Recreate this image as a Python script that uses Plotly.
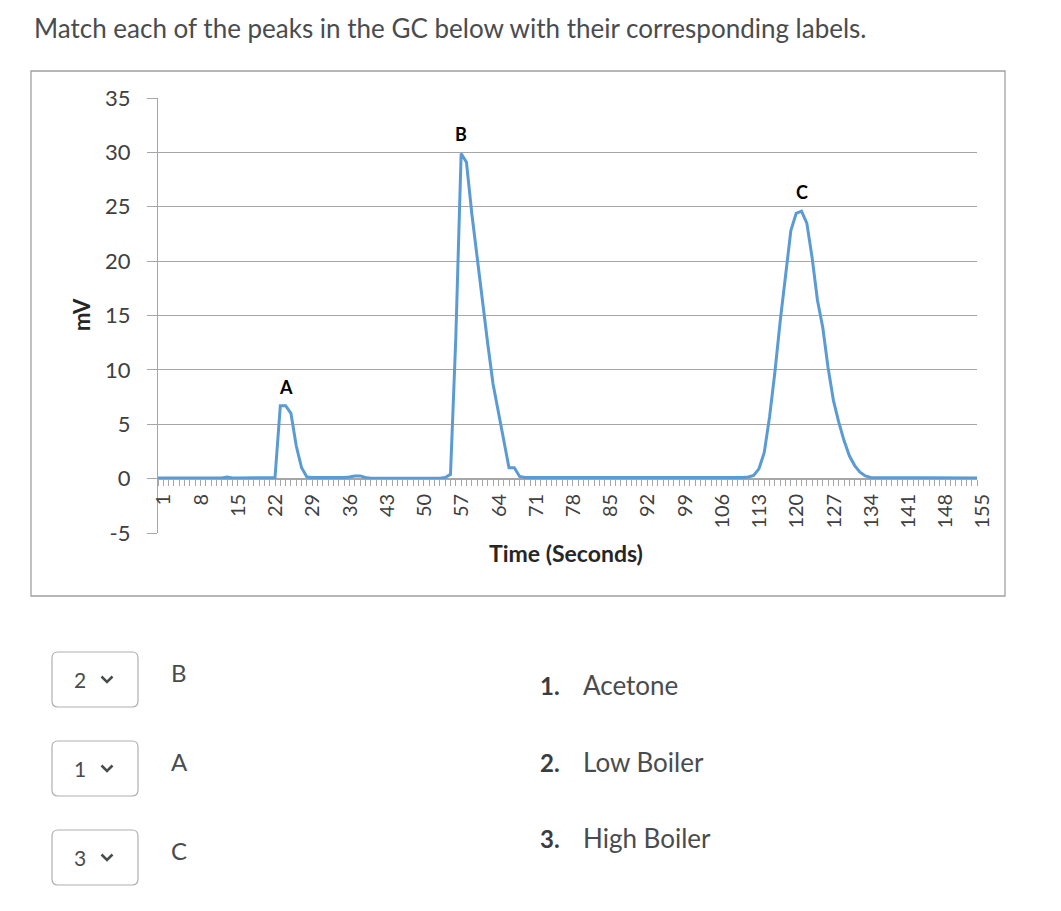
import plotly.graph_objects as go

# ---------------- data ----------------
time_s = list(range(1, 156))
mv = [
    0.05, 0.05, 0.05, 0.05, 0.05, 0.05, 0.05, 0.05, 0.05, 0.05,   # 1-10
    0.05, 0.05, 0.05, 0.15, 0.05, 0.05, 0.05, 0.05, 0.05, 0.05,   # 11-20
    0.05, 0.05, 0.1, 6.7, 6.7, 6.0, 3.0, 1.0, 0.15, 0.1,          # 21-30
    0.1, 0.1, 0.1, 0.05, 0.05, 0.1, 0.15, 0.25, 0.25, 0.1,        # 31-40
    0.03, 0.03, 0.03, 0.03, 0.03, 0.03, 0.03, 0.03, 0.03, 0.03,   # 41-50
    0.03, 0.03, 0.03, 0.03, 0.1, 0.4, 13.0, 29.9, 29.1, 24.4,     # 51-60
    20.4, 16.2, 12.4, 8.7, 6.2, 3.4, 1.0, 1.0, 0.2, 0.1,          # 61-70
    0.1, 0.1, 0.1, 0.1, 0.1, 0.1, 0.05, 0.05, 0.05, 0.05,         # 71-80
    0.05, 0.05, 0.05, 0.05, 0.05, 0.05, 0.05, 0.05, 0.05, 0.05,   # 81-90
    0.05, 0.05, 0.05, 0.05, 0.05, 0.05, 0.05, 0.05, 0.05, 0.05,   # 91-100
    0.05, 0.05, 0.05, 0.05, 0.05, 0.1, 0.1, 0.1, 0.1, 0.1,        # 101-110
    0.1, 0.15, 0.3, 0.9, 2.4, 5.7, 9.8, 14.5, 18.5, 22.8,         # 111-120
    24.4, 24.6, 23.5, 20.3, 16.4, 13.9, 10.2, 7.2, 5.2, 3.5,      # 121-130
    2.1, 1.2, 0.6, 0.25, 0.1, 0.1, 0.1, 0.1, 0.1, 0.1,            # 131-140
    0.05, 0.05, 0.05, 0.05, 0.05, 0.05, 0.05, 0.05, 0.05, 0.05,   # 141-150
    0.05, 0.05, 0.05, 0.05, 0.05,                                 # 151-155
]
x_tickvals = [1, 8, 15, 22, 29, 36, 43, 50, 57, 64, 71, 78, 85, 92, 99,
              106, 113, 120, 127, 134, 141, 148, 155]
x_ticktext = [str(v) for v in x_tickvals]
y_tickvals = [-5, 0, 5, 10, 15, 20, 25, 30, 35]
y_ticktext = ["-5", "0", "5", "10", "15", "20", "25", "30", "35"]

peak_labels = ["A", "B", "C"]
peak_times = [25, 58, 122]

question = "Match each of the peaks in the GC below with their corresponding labels."
answers = ["2", "1", "3"]
peak_rows = ["B", "A", "C"]
choice_nums = ["1.", "2.", "3."]
choice_texts = ["Acetone", "Low Boiler", "High Boiler"]

# ---------------- layout geometry ----------------
# the page body adds an 8px margin, so the figure is drawn 8px smaller and
# all reference pixel positions are shifted by that offset
OFF = 8
W, H = 1061 - OFF, 911 - OFF
L, R, T, B = 158 - OFF, 84, 98 - OFF, 378
PW = W - L - R
PH = H - T - B


def px(x):
    return (x - OFF - L) / PW


def py(y):
    return (H - B - (y - OFF)) / PH


GRID = "#a6a6a6"
TXT = "#494c4e"
CHART_FONT = "Lato"

fig = go.Figure()
fig.add_trace(go.Scatter(
    x=time_s, y=mv, mode="lines",
    line=dict(color="#5B9BD5", width=3),
    showlegend=False, hoverinfo="x+y",
))

annotations = []
for lab, t in zip(peak_labels, peak_times):
    annotations.append(dict(
        x=t, y=mv[time_s.index(t)], xref="x", yref="y", text=lab,
        showarrow=False, yanchor="bottom", yshift=6,
        font=dict(family=CHART_FONT, size=18, color="#000000", weight="bold"),
    ))

# axis titles
annotations.append(dict(
    x=px(81), y=py(315), xref="paper", yref="paper", text="mV", textangle=-90,
    showarrow=False, xanchor="center", yanchor="middle",
    font=dict(family=CHART_FONT, size=22, color="#262626", weight="bold"),
))
annotations.append(dict(
    x=px(566), y=py(553), xref="paper", yref="paper", text="Time (Seconds)",
    showarrow=False, xanchor="center", yanchor="middle",
    font=dict(family=CHART_FONT, size=23, color="#262626", weight="bold"),
))

# question text
annotations.append(dict(
    x=px(32), y=py(28), xref="paper", yref="paper", text=question,
    showarrow=False, xanchor="left", yanchor="middle",
    font=dict(family="Lato", size=26, color=TXT),
))

shapes = []
# chart frame
shapes.append(dict(type="rect", xref="paper", yref="paper",
                   x0=px(31), x1=px(1005), y0=py(596), y1=py(71),
                   line=dict(color="#a0a0a0", width=1.3), layer="below"))


def rounded_rect(x0, y0, x1, y1, r):
    pts = [
        f"M {px(x0 + r)} {py(y0)}",
        f"L {px(x1 - r)} {py(y0)}",
        f"Q {px(x1)} {py(y0)} {px(x1)} {py(y0 + r)}",
        f"L {px(x1)} {py(y1 - r)}",
        f"Q {px(x1)} {py(y1)} {px(x1 - r)} {py(y1)}",
        f"L {px(x0 + r)} {py(y1)}",
        f"Q {px(x0)} {py(y1)} {px(x0)} {py(y1 - r)}",
        f"L {px(x0)} {py(y0 + r)}",
        f"Q {px(x0)} {py(y0)} {px(x0 + r)} {py(y0)}",
        "Z",
    ]
    return " ".join(pts)


box_tops = [652, 741, 830]
list_ys = [685, 762, 838]
for i in range(3):
    top = box_tops[i]
    bot = top + 55
    cy = (top + bot) / 2
    shapes.append(dict(type="path", xref="paper", yref="paper",
                       path=rounded_rect(52, top, 138, bot, 6),
                       line=dict(color="#b0b0b0", width=1.2)))
    # chevron
    shapes.append(dict(type="path", xref="paper", yref="paper",
                       path=f"M {px(101.5)} {py(cy - 3)} L {px(107)} {py(cy + 2.5)} L {px(112.5)} {py(cy - 3)}",
                       line=dict(color=TXT, width=2.5)))
    annotations.append(dict(
        x=px(80), y=py(cy), xref="paper", yref="paper", text=answers[i],
        showarrow=False, xanchor="center", yanchor="middle",
        font=dict(family="Lato", size=21, color=TXT),
    ))
    annotations.append(dict(
        x=px(169), y=py(top + 20), xref="paper", yref="paper", text=peak_rows[i],
        showarrow=False, xanchor="left", yanchor="middle",
        font=dict(family="Lato", size=24, color=TXT),
    ))
    annotations.append(dict(
        x=px(538), y=py(list_ys[i]), xref="paper", yref="paper", text=choice_nums[i],
        showarrow=False, xanchor="left", yanchor="middle",
        font=dict(family="Lato", size=24, color="#3a3d40", weight="bold"),
    ))
    annotations.append(dict(
        x=px(581), y=py(list_ys[i]), xref="paper", yref="paper", text=choice_texts[i],
        showarrow=False, xanchor="left", yanchor="middle",
        font=dict(family="Lato", size=26, color=TXT),
    ))

fig.update_layout(
    width=W, height=H,
    margin=dict(l=L, r=R, t=T, b=B, autoexpand=False),
    paper_bgcolor="white", plot_bgcolor="white",
    showlegend=False,
    annotations=annotations,
    shapes=shapes,
    xaxis=dict(
        range=[1, 155], anchor="free", position=5 / 40,
        tickmode="array", tickvals=x_tickvals, ticktext=x_ticktext,
        tickangle=-90, ticks="outside", ticklen=6, tickcolor=GRID,
        ticklabelshift=6,
        minor=dict(dtick=1, tick0=1, ticks="outside", ticklen=6, tickcolor=GRID, showgrid=False),
        showline=True, linecolor=GRID, linewidth=1.3,
        showgrid=False, zeroline=False,
        tickfont=dict(family=CHART_FONT, size=20, color="#404040"),
    ),
    yaxis=dict(
        range=[-5, 35], tickmode="array", tickvals=y_tickvals, ticktext=y_ticktext,
        ticks="outside", ticklen=10, tickcolor=GRID,
        showline=True, linecolor=GRID, linewidth=1.3,
        showgrid=True, gridcolor=GRID, gridwidth=1.2, zeroline=False,
        tickfont=dict(family=CHART_FONT, size=22, color="#404040"),
        ticklabelstandoff=12,
    ),
)

fig.write_html("out.html")
